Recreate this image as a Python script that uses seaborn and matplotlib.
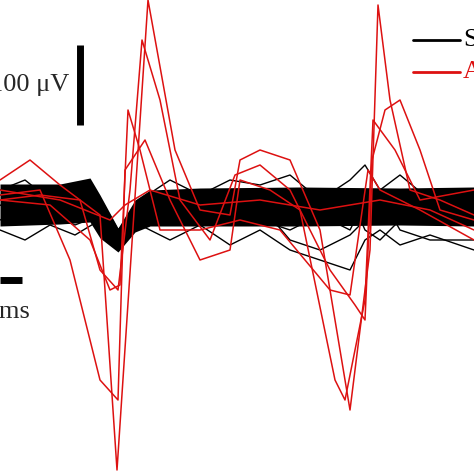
import matplotlib
matplotlib.use("Agg")
import matplotlib.pyplot as plt
import seaborn as sns

sns.set_style("white")
plt.rcParams['font.family'] = ['Liberation Serif', 'DejaVu Serif']

# red artifact traces (time px, amplitude px; screen-like coordinates)
red_x = [
    [0,40,80,100,117,148,175,200,230,240,260,290,320,350,370,378,390,410,440,474],
    [0,30,60,80,100,118,130,142,160,180,210,235,260,290,330,355,365,372,385,400,420,440,474],
    [0,40,70,100,118,125,145,170,200,230,240,270,300,335,345,365,373,395,420,474],
    [0,50,90,110,120,128,140,160,200,240,280,330,350,368,380,420,474],
    [0,60,110,125,150,200,260,320,380,430,474],
]
red_y = [
    [200,195,200,215,470,0,150,210,215,160,150,160,230,410,250,5,100,190,200,215],
    [180,160,185,200,270,290,190,40,100,200,240,175,165,190,270,305,320,160,110,100,150,210,220],
    [195,190,260,380,400,170,140,200,260,250,180,190,210,380,400,300,120,150,200,190],
    [200,205,240,290,285,110,150,230,230,220,230,290,295,170,190,210,240],
    [190,200,220,205,190,205,200,210,200,210,230],
]
# black spike band envelope
band_x = [0,60,90,100,118,135,150,200,300,400,474]
band_up = [184,184,178,195,228,200,190,188,187,188,187]
band_lo = [226,224,222,238,252,232,226,226,226,225,226]
# individual black traces
blk_x = [0,25,50,75,100,118,140,170,200,230,260,290,320,350,365,380,400,430,474]
blk_y = [
    [190,180,200,188,200,240,200,180,195,180,185,175,200,180,165,190,175,200,190],
    [230,240,225,235,220,250,225,240,225,245,230,250,260,270,240,230,245,235,250],
    [205,215,195,210,205,235,210,200,215,195,220,230,215,230,200,215,205,220,210],
    [195,200,210,190,198,230,205,205,190,210,200,205,190,195,230,240,220,200,205],
    [220,210,215,225,215,245,218,215,220,215,205,240,250,235,220,195,230,240,240],
]

fig = plt.figure(figsize=(4.74, 4.74), dpi=100)
ax = fig.add_axes([0, 0, 1, 1])
ax.fill_between(band_x, band_up, band_lo, color='black', lw=0)
for y in blk_y:
    sns.lineplot(x=blk_x, y=y, ax=ax, color='black', lw=1, estimator=None, sort=False)
for x, y in zip(red_x, red_y):
    sns.lineplot(x=x, y=y, ax=ax, color='#dd1111', lw=1.1, estimator=None, sort=False)
ax.set_xlim(0, 474)
ax.set_ylim(474, 0)
ax.axis('off')

# scale bars
ax.plot([80, 80], [45, 125], color='black', lw=5, solid_capstyle='butt')
ax.text(69, 85, '100 μV', ha='right', va='center', fontsize=19)
ax.plot([0, 22], [280, 280], color='black', lw=5, solid_capstyle='butt')
ax.text(30, 312, '1 ms', ha='right', va='center', fontsize=19)

# legend
ax.plot([413, 460], [40, 40], color='black', lw=2)
ax.plot([413, 460], [72, 72], color='#dd1111', lw=2)
ax.text(463, 40, 'Spike', ha='left', va='center', fontsize=19, color='black')
ax.text(463, 72, 'Artifact', ha='left', va='center', fontsize=19, color='#dd1111')

fig.savefig('out.png', dpi=100)
